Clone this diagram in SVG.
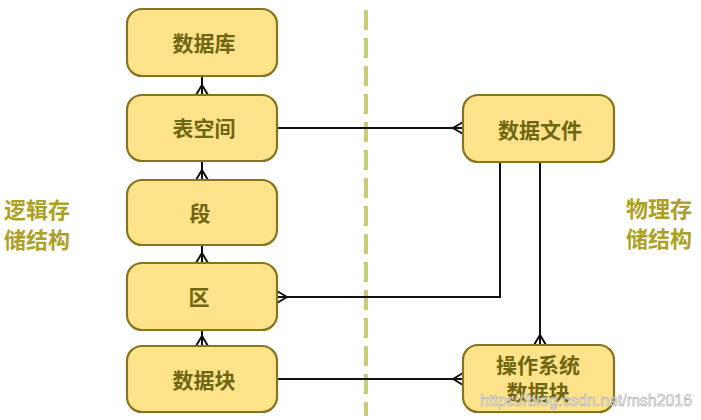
<svg xmlns="http://www.w3.org/2000/svg" width="701" height="420" viewBox="0 0 701 420">
<defs>
<style>
.box{fill:#ffe38a;stroke:#857522;stroke-width:2.2}
.lbl{font-family:"Noto Sans CJK SC","Noto Sans",sans-serif;font-weight:bold;font-size:21px;fill:#6e6612;text-anchor:middle}
.side{font-family:"Noto Sans CJK SC","Noto Sans",sans-serif;font-weight:bold;font-size:22px;fill:#aaa126}
.con{fill:none;stroke:#111;stroke-width:2}
.wm{font-family:"Liberation Sans",Arial,sans-serif;font-size:16px;fill:#ffffff;fill-opacity:0.85;stroke:#a8a8a8;stroke-width:0.6}
</style>
<marker id="many" markerUnits="userSpaceOnUse" markerWidth="14" markerHeight="16" refX="12" refY="8" orient="auto" viewBox="0 0 14 16">
<path d="M2,8 L12,2 M2,8 L12,14 M0,8 L12,8" fill="none" stroke="#111" stroke-width="2"/>
</marker>
</defs>
<rect width="701" height="420" fill="#ffffff"/>
<line x1="366" y1="10" x2="366" y2="416" stroke="#c8cd78" stroke-width="4" stroke-dasharray="20 8"/>
<g id="connectors">
<path class="con" d="M202,77 L202,95" marker-end="url(#many)"/>
<path class="con" d="M202,161 L202,180" marker-end="url(#many)"/>
<path class="con" d="M202,245 L202,263" marker-end="url(#many)"/>
<path class="con" d="M202,330 L202,346" marker-end="url(#many)"/>
<path class="con" d="M277,128 L463,128" marker-end="url(#many)"/>
<path class="con" d="M500,162 L500,297 L277,297" marker-end="url(#many)"/>
<path class="con" d="M540,162 L540,345" marker-end="url(#many)"/>
<path class="con" d="M277,379 L463,379" marker-end="url(#many)"/>
</g>
<g id="n-db"><rect class="box" x="127" y="9" width="150" height="67" rx="15"/><text class="lbl" x="204" y="51">数据库</text></g>
<g id="n-ts"><rect class="box" x="127" y="95" width="150" height="66" rx="15"/><text class="lbl" x="204" y="136">表空间</text></g>
<g id="n-seg"><rect class="box" x="127" y="180" width="150" height="65" rx="15"/><text class="lbl" x="200" y="221">段</text></g>
<g id="n-ext"><rect class="box" x="127" y="263" width="150" height="67" rx="15"/><text class="lbl" x="199" y="305">区</text></g>
<g id="n-blk"><rect class="box" x="127" y="346" width="150" height="66" rx="15"/><text class="lbl" x="204" y="388">数据块</text></g>
<g id="n-file"><rect class="box" x="463" y="95" width="151" height="67" rx="15"/><text class="lbl" x="540" y="138">数据文件</text></g>
<g id="n-osblk"><rect class="box" x="463" y="345" width="151" height="67" rx="15"/><text class="lbl" x="538" y="373">操作系统</text><text class="lbl" x="538" y="400">数据块</text></g>
<g id="labels">
<text class="side" x="4" y="218">逻辑存</text>
<text class="side" x="4" y="248">储结构</text>
<text class="side" x="626" y="217">物理存</text>
<text class="side" x="626" y="247">储结构</text>
</g>
<text class="wm" x="480" y="406" textLength="212" lengthAdjust="spacingAndGlyphs">https://blog.csdn.net/msh2016</text>
</svg>
